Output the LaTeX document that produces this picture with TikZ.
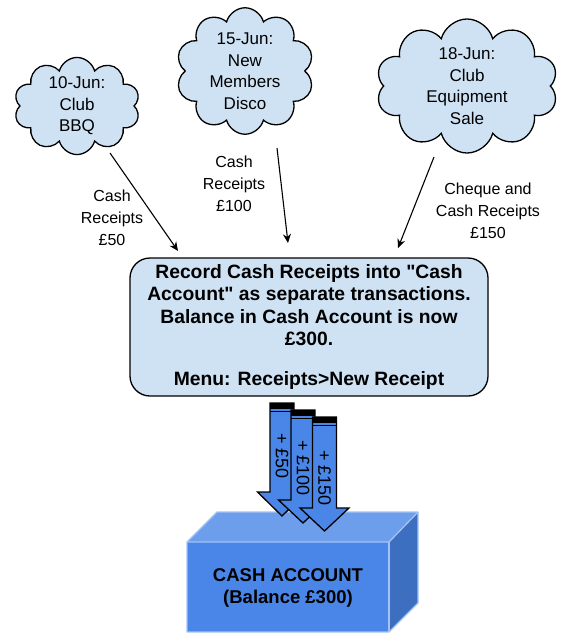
\documentclass[tikz,border=0pt]{standalone}
\usepackage{fontspec}
\setmainfont{Liberation Sans}[Ligatures=TeXOff]
\usetikzlibrary{shapes.symbols,arrows.meta}
\definecolor{lightbl}{HTML}{CFE2F3}
\definecolor{frontbl}{HTML}{4A86E8}
\definecolor{topbl}{HTML}{6D9EEB}
\definecolor{sidebl}{HTML}{3C6FC0}
\definecolor{edgebl}{HTML}{A4C2F4}
\definecolor{arrbl}{HTML}{4A86E8}
\tikzset{
  cloudnode/.style={cloud, cloud puffs=10, cloud ignores aspect, draw=black, line width=1.3pt, fill=lightbl,
    inner sep=0pt, align=center, font=\fontsize{17}{21.5}\selectfont},
  lbl/.style={align=center, font=\fontsize{16}{22}\selectfont},
  flow/.style={line width=1.1pt, -{Stealth[length=9pt,width=8pt]}},
  mainbox/.style={draw=black, line width=1.3pt, fill=lightbl, rounded corners=20pt, align=center,
    font=\bfseries\fontsize{19.3}{22.5}\selectfont, minimum width=358pt, minimum height=138pt, inner sep=0pt},
  blockarr/.style={draw=black, line width=1.3pt, fill=arrbl, line join=miter},
  arrtxt/.style={rotate=-90, font=\fontsize{18}{20}\selectfont},
  acctxt/.style={align=center, font=\bfseries\fontsize{18.5}{21.5}\selectfont}
}
\begin{document}
\begin{tikzpicture}[x=1pt,y=-1pt]
\useasboundingbox (0,0) rectangle (571,643);
% clouds
\node[cloudnode, minimum width=126pt, minimum height=88pt] (c1) at (77,106) {10-Jun:\\Club\\BBQ};
\node[cloudnode, minimum width=138pt, minimum height=122pt] (c2) at (245,71) {15-Jun:\\New\\Members\\Disco};
\node[cloudnode, minimum width=182pt, minimum height=134pt] (c3) at (467,86) {18-Jun:\\Club\\Equipment\\Sale};
% main box
\node[mainbox] (box) at (309,327) {Record Cash Receipts into "Cash\\Account" as separate transactions.\\Balance in Cash Account is now\\£300.\\[17pt]Menu: Receipts>New Receipt};
% flow arrows
\coordinate (s1) at (110,153); \coordinate (e1) at (178,251);
\coordinate (s2) at (277,148); \coordinate (e2) at (288,243);
\coordinate (s3) at (434,157); \coordinate (e3) at (398,248);
\draw[flow] (s1) -- (e1);
\draw[flow] (s2) -- (e2);
\draw[flow] (s3) -- (e3);
\node[lbl] (l1) at (112,218) {Cash\\Receipts\\£50};
\node[lbl] (l2) at (234,184) {Cash\\Receipts\\£100};
\node[lbl] (l3) at (488,211) {Cheque and\\Cash Receipts\\£150};
% cash account cuboid
\fill[topbl] (187,542) -- (217,512) -- (418,512) -- (389,542) -- cycle;
\fill[sidebl] (389,542) -- (418,512) -- (418,603) -- (389,632) -- cycle;
\fill[frontbl] (187,542) rectangle (389,632);
\draw[edgebl, line width=1.3pt, line join=round] (187,542) -- (217,512) -- (418,512) -- (418,603) -- (389,632) -- (187,632) -- cycle;
\draw[edgebl, line width=1.3pt] (187,542) -- (389,542) -- (418,512);
\draw[edgebl, line width=1.3pt] (389,542) -- (389,632);
\node[acctxt] (acc) at (288,588) {CASH ACCOUNT\\(Balance £300)};
% block arrows
\foreach \cx/\top/\hd/\tip/\nm/\txt/\ty in {282/403/492/516/b1/{+ £50}/456, 303/410/500/523/b2/{+ £100}/468, 324.5/417/508/531/b3/{+ £150}/478}{
  \draw[blockarr] (\cx-12,\top) -- (\cx+12,\top) -- (\cx+12,\hd) -- (\cx+24.5,\hd) -- (\cx,\tip) -- (\cx-24.5,\hd) -- (\cx-12,\hd) -- cycle;
  \fill[black] (\cx-12,\top) rectangle (\cx+12,\top+6);
  \draw[black, line width=1pt] (\cx-12,\top+8.5) -- (\cx+12,\top+8.5);
  \node[arrtxt] (\nm) at (\cx,\ty) {\txt};
}
\end{tikzpicture}
\end{document}
